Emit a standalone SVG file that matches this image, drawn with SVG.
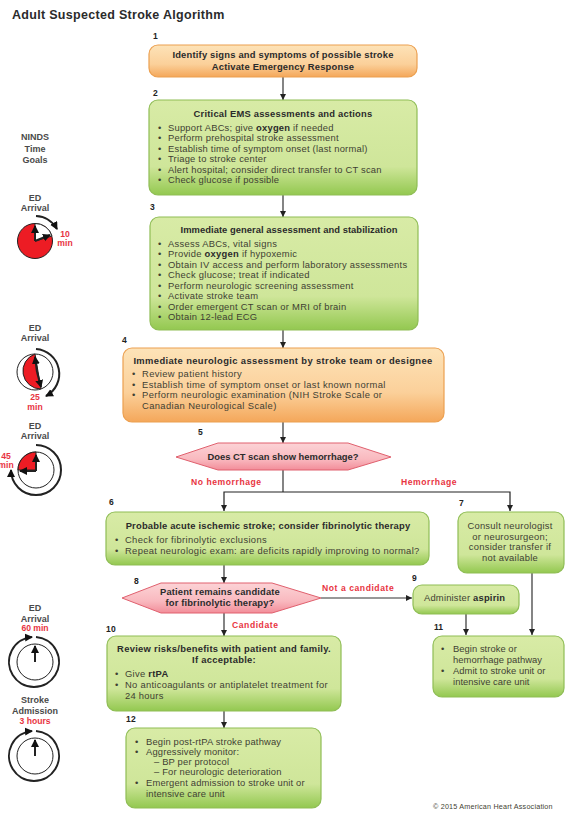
<svg xmlns="http://www.w3.org/2000/svg" width="583" height="829" viewBox="0 0 583 829">
<style>
text{font-family:"Liberation Sans",Arial,sans-serif;font-size:9.4px;fill:#3f3f33}
.b{font-weight:bold;fill:#2b2b2b}
.n{font-weight:bold;font-size:8.5px;fill:#222}
.m{text-anchor:middle}
.r{font-weight:bold;fill:#e8343f;font-size:8.6px;letter-spacing:.55px}
.c{font-size:9px;font-weight:bold;fill:#4a4a4a;text-anchor:middle}
.g{fill:url(#green);stroke:#8fbd55;stroke-width:1.2}
.o{fill:url(#orange);stroke:#eca050;stroke-width:1.2}
.p{fill:url(#pink);stroke:#e0606e;stroke-width:1}
.l{fill:none;stroke:#333;stroke-width:1.2}
.k{fill:none;stroke:#222;stroke-width:1.2}
.a{fill:none;stroke:#222;stroke-width:2}
.h{fill:none;stroke:#222;stroke-width:2}
</style>
<defs>
<linearGradient id="green" x1="0" y1="0" x2="0" y2="1"><stop offset="0" stop-color="#d8eba6"/><stop offset=".7" stop-color="#cfe69a"/><stop offset="1" stop-color="#93c850"/></linearGradient>
<linearGradient id="orange" x1="0" y1="0" x2="0" y2="1"><stop offset="0" stop-color="#fde3b8"/><stop offset=".6" stop-color="#fbd09a"/><stop offset="1" stop-color="#f4a75a"/></linearGradient>
<linearGradient id="pink" x1="0" y1="0" x2="0" y2="1"><stop offset="0" stop-color="#fcd3d6"/><stop offset=".6" stop-color="#f9b9bf"/><stop offset="1" stop-color="#f28d99"/></linearGradient>
<marker id="arr" markerUnits="userSpaceOnUse" markerWidth="7" markerHeight="7" refX="6" refY="3" orient="auto"><path d="M0 0L6 3L0 6Z" fill="#222"/></marker>
<marker id="big" markerUnits="userSpaceOnUse" markerWidth="9" markerHeight="9" refX="7" refY="4" orient="auto"><path d="M0 0L8 4L0 8Z" fill="#111"/></marker>
</defs>
<text x="12" y="19" class="b" style="font-size:12.5px;letter-spacing:.3px">Adult Suspected Stroke Algorithm</text>

<g id="connectors">
<path class="l" marker-end="url(#arr)" d="M283 77V100"/>
<path class="l" marker-end="url(#arr)" d="M283 195V217"/>
<path class="l" marker-end="url(#arr)" d="M283 330V348"/>
<path class="l" marker-end="url(#arr)" d="M283 422V443"/>
<path class="l" d="M283 470V492"/>
<path class="k" marker-end="url(#arr)" d="M283 492H224V511"/>
<path class="k" marker-end="url(#arr)" d="M283 492H510V511"/>
<path class="l" marker-end="url(#arr)" d="M224 565V583"/>
<path class="l" marker-end="url(#arr)" d="M321 598H412"/>
<path class="l" marker-end="url(#arr)" d="M224 613V636"/>
<path class="l" marker-end="url(#arr)" d="M466 613V635"/>
<path class="l" marker-end="url(#arr)" d="M532 573V635"/>
<path class="l" marker-end="url(#arr)" d="M224 711V728"/>
<text x="191" y="485" class="r">No hemorrhage</text>
<text x="401" y="485" class="r">Hemorrhage</text>
<text x="322" y="591" class="r">Not a candidate</text>
<text x="232" y="628" class="r">Candidate</text>
</g>

<g id="node1" letter-spacing=".2"><text x="153" y="39" class="n">1</text><rect class="o" x="149" y="45" width="268" height="32" rx="9"/>
<text x="283" y="58" class="b m">Identify signs and symptoms of possible stroke</text>
<text x="283" y="70" class="b m">Activate Emergency Response</text></g>

<g id="node2" letter-spacing=".22"><text x="153" y="96" class="n">2</text><rect class="g" x="149" y="100" width="268" height="95" rx="9"/>
<text x="283" y="117" class="b m">Critical EMS assessments and actions</text>
<text x="158" y="131">•</text><text x="168" y="131">Support ABCs; give <tspan class="b">oxygen</tspan> if needed</text>
<text x="158" y="141">•</text><text x="168" y="141">Perform prehospital stroke assessment</text>
<text x="158" y="152">•</text><text x="168" y="152">Establish time of symptom onset (last normal)</text>
<text x="158" y="162">•</text><text x="168" y="162">Triage to stroke center</text>
<text x="158" y="173">•</text><text x="168" y="173">Alert hospital; consider direct transfer to CT scan</text>
<text x="158" y="183">•</text><text x="168" y="183">Check glucose if possible</text></g>

<g id="node3" letter-spacing=".27"><text x="150" y="210" class="n">3</text><rect class="g" x="150" y="217" width="268" height="113" rx="9"/>
<text x="289" y="233" class="b m" letter-spacing=".05">Immediate general assessment and stabilization</text>
<text x="158" y="247">•</text><text x="168" y="247">Assess ABCs, vital signs</text>
<text x="158" y="257">•</text><text x="168" y="257">Provide <tspan class="b">oxygen</tspan> if hypoxemic</text>
<text x="158" y="268">•</text><text x="168" y="268">Obtain IV access and perform laboratory assessments</text>
<text x="158" y="278">•</text><text x="168" y="278">Check glucose; treat if indicated</text>
<text x="158" y="289">•</text><text x="168" y="289">Perform neurologic screening assessment</text>
<text x="158" y="299">•</text><text x="168" y="299">Activate stroke team</text>
<text x="158" y="310">•</text><text x="168" y="310">Order emergent CT scan or MRI of brain</text>
<text x="158" y="320">•</text><text x="168" y="320">Obtain 12-lead ECG</text></g>

<g id="node4" letter-spacing=".38"><text x="122" y="343" class="n">4</text><rect class="o" x="123" y="348" width="321" height="74" rx="9"/>
<text x="283" y="364" class="b m">Immediate neurologic assessment by stroke team or designee</text>
<text x="132" y="377">•</text><text x="142" y="377">Review patient history</text>
<text x="132" y="388">•</text><text x="142" y="388">Establish time of symptom onset or last known normal</text>
<text x="132" y="398">•</text><text x="142" y="398">Perform neurologic examination (NIH Stroke Scale or</text>
<text x="142" y="409">Canadian Neurological Scale)</text></g>

<g id="node5"><text x="198" y="435" class="n">5</text><path class="p" d="M176 457L218 443H348L391 457L348 470H218Z"/>
<text x="283" y="460" class="b m">Does CT scan show hemorrhage?</text></g>

<g id="node6" letter-spacing=".34"><text x="109" y="505" class="n">6</text><rect class="g" x="106" y="512" width="323" height="53" rx="9"/>
<text x="268" y="529" class="b m" letter-spacing=".2">Probable acute ischemic stroke; consider fibrinolytic therapy</text>
<text x="115" y="543">•</text><text x="125" y="543">Check for fibrinolytic exclusions</text>
<text x="115" y="554">•</text><text x="125" y="554">Repeat neurologic exam: are deficits rapidly improving to normal?</text></g>

<g id="node7" letter-spacing=".26"><text x="459" y="506" class="n">7</text><rect class="g" x="458" y="512" width="106" height="61" rx="9"/>
<text x="510" y="529" class="m">Consult neurologist</text>
<text x="510" y="540" class="m">or neurosurgeon;</text>
<text x="510" y="550" class="m">consider transfer if</text>
<text x="510" y="561" class="m">not available</text></g>

<g id="node8" letter-spacing=".15"><text x="134" y="584" class="n">8</text><path class="p" d="M122 598L161 583H272L321 598L272 613H161Z"/>
<text x="220" y="595" class="b m">Patient remains candidate</text>
<text x="220" y="606" class="b m">for fibrinolytic therapy?</text></g>

<g id="node9" letter-spacing=".2"><text x="412" y="581" class="n">9</text><rect class="g" x="413" y="585" width="106" height="29" rx="9"/>
<text x="424" y="601">Administer <tspan class="b">aspirin</tspan></text></g>

<g id="node10" letter-spacing=".28"><text x="106" y="632" class="n">10</text><rect class="g" x="107" y="636" width="234" height="75" rx="9"/>
<text x="224" y="652" class="b m">Review risks/benefits with patient and family.</text>
<text x="224" y="663" class="b m">If acceptable:</text>
<text x="115" y="677">•</text><text x="125" y="677">Give <tspan class="b">rtPA</tspan></text>
<text x="115" y="688">•</text><text x="125" y="688">No anticoagulants or antiplatelet treatment for</text>
<text x="125" y="699">24 hours</text></g>

<g id="node11" letter-spacing=".05"><text x="434" y="630" class="n">11</text><rect class="g" x="433" y="636" width="131" height="61" rx="9"/>
<text x="441" y="652">•</text><text x="453" y="652">Begin stroke or</text>
<text x="453" y="663">hemorrhage pathway</text>
<text x="441" y="674">•</text><text x="453" y="674">Admit to stroke unit or</text>
<text x="453" y="685">intensive care unit</text></g>

<g id="node12" letter-spacing=".17"><text x="126" y="722" class="n">12</text><rect class="g" x="126" y="728" width="195" height="80" rx="9"/>
<text x="135" y="745">•</text><text x="146" y="745">Begin post-rtPA stroke pathway</text>
<text x="135" y="755">•</text><text x="146" y="755">Aggressively monitor:</text>
<text x="154" y="765">–  BP per protocol</text>
<text x="154" y="775">–  For neurologic deterioration</text>
<text x="135" y="786">•</text><text x="146" y="786">Emergent admission to stroke unit or</text>
<text x="146" y="797">intensive care unit</text></g>

<text x="433" y="809" style="font-size:7.2px;letter-spacing:.2px">© 2015 American Heart Association</text>

<g id="goals"><text x="35" y="140" class="c">NINDS</text><text x="35" y="152" class="c">Time</text><text x="35" y="163" class="c">Goals</text></g>

<g id="clock10"><text x="35" y="201" class="c">ED</text><text x="35" y="211" class="c">Arrival</text>
<circle cx="35" cy="241" r="17.5" fill="#ed1c24" stroke="#222" stroke-width="1"/>
<path d="M35 241V223.5A17.5 17.5 0 0 1 52 236Z" fill="#fff" stroke="#222" stroke-width="1"/>
<path class="a" marker-end="url(#big)" d="M35 241V226"/><path class="a" marker-end="url(#big)" d="M35 241L50 235"/>
<path class="h" marker-end="url(#big)" d="M36 216A25 25 0 0 1 57 229"/>
<text x="65" y="237" class="r m" letter-spacing="0" style="letter-spacing:0">10</text><text x="65" y="246" class="r m" style="letter-spacing:0">min</text></g>

<g id="clock25"><text x="35" y="331" class="c">ED</text><text x="35" y="341" class="c">Arrival</text>
<circle cx="35" cy="372" r="18" fill="#fff" stroke="#222" stroke-width="1"/>
<path d="M35 354A18 18 0 0 0 41 389Z" fill="#ed1c24" stroke="#222" stroke-width="1"/>
<path class="a" marker-end="url(#big)" d="M37 372L35 357"/><path class="a" marker-end="url(#big)" d="M37 372L41 387"/>
<path class="h" marker-end="url(#big)" d="M36 349A25 25 0 0 1 46 396"/>
<text x="35" y="400" class="r m" style="letter-spacing:0">25</text><text x="35" y="410" class="r m" style="letter-spacing:0">min</text></g>

<g id="clock45"><text x="35" y="429" class="c">ED</text><text x="35" y="439" class="c">Arrival</text>
<circle cx="36" cy="470" r="18" fill="#fff" stroke="#222" stroke-width="1"/>
<path d="M36 470V452A18 18 0 0 0 18 470Z" fill="#ed1c24" stroke="#222" stroke-width="1"/>
<path class="a" marker-end="url(#big)" d="M36 471V455"/><path class="a" marker-end="url(#big)" d="M36 471H20"/>
<path class="h" marker-end="url(#big)" d="M36 445A25 25 0 1 1 11 470"/>
<text x="6" y="459" class="r m" style="letter-spacing:0">45</text><text x="6" y="468" class="r m" style="letter-spacing:0">min</text></g>

<g id="clock60"><text x="35" y="611" class="c">ED</text><text x="35" y="622" class="c">Arrival</text><text x="35" y="631" class="r m" style="letter-spacing:0">60 min</text>
<circle cx="35" cy="662" r="18" fill="#fff" stroke="#222" stroke-width="1"/>
<path class="a" marker-end="url(#big)" d="M35 662V646"/>
<path class="h" marker-end="url(#big)" d="M36 637A25 25 0 1 1 32 637"/></g>

<g id="clock3h"><text x="35" y="703" class="c">Stroke</text><text x="35" y="714" class="c">Admission</text><text x="35" y="724" class="r m" style="letter-spacing:0">3 hours</text>
<circle cx="35" cy="756" r="18" fill="#fff" stroke="#222" stroke-width="1"/>
<path class="a" marker-end="url(#big)" d="M35 756V740"/>
<path class="h" marker-end="url(#big)" d="M36 731A25 25 0 1 1 32 731"/></g>
</svg>
